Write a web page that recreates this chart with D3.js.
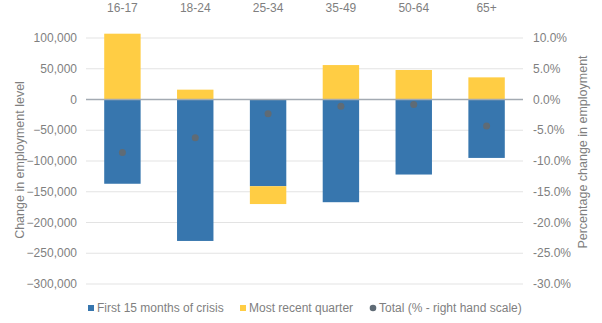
<!DOCTYPE html>
<html>
<head>
<meta charset="utf-8">
<script src="https://cdn.jsdelivr.net/npm/d3@7"></script>
<style>
  body { margin: 0; background: #fff; }
  text { font-family: "Liberation Sans", Arial, sans-serif; fill: #7f7f7f; }
</style>
</head>
<body>
<svg id="chart" width="602" height="323"></svg>
<script>
const groups = ['16-17', '18-24', '25-34', '35-49', '50-64', '65+'];
const firstMonths = [-137000, -230000, -141000, -167000, -122000, -95000];
const recentQuarter = [107000, 16000, -29000, 56000, 48000, 36000];
const totalPct = [-8.6, -6.2, -2.3, -1.1, -0.8, -4.3];
const leftTicks = [100000, 50000, 0, -50000, -100000, -150000, -200000, -250000, -300000];
const rightTicks = [10, 5, 0, -5, -10, -15, -20, -25, -30];

const svg = d3.select('#chart');
const margin = {top: 38, left: 86, right: 79, bottom: 39};
const width = 602 - margin.left - margin.right;
const height = 323 - margin.top - margin.bottom;
const g = svg.append('g').attr('transform', `translate(${margin.left},${margin.top})`);

const x = d3.scaleBand().domain(groups).range([0, width]).paddingInner(0.5).paddingOuter(0.25);
const y = d3.scaleLinear().domain([-300000, 100000]).range([height, 0]);
const y2 = d3.scaleLinear().domain([-30, 10]).range([height, 0]);

// gridlines
g.selectAll('.grid').data(leftTicks.filter(d => d !== 0)).join('line')
  .attr('x1', 0).attr('x2', width)
  .attr('y1', d => y(d)).attr('y2', d => y(d))
  .attr('stroke', '#e3e3e3').attr('stroke-width', 1);

// left axis labels
const fmt = d3.format(',');
g.selectAll('.ly').data(leftTicks).join('text')
  .attr('x', -9).attr('y', d => y(d)).attr('dy', '0.35em')
  .attr('text-anchor', 'end').style('font-size', '12px')
  .text(d => fmt(d));

// right axis labels
g.selectAll('.ry').data(rightTicks).join('text')
  .attr('x', width + 10).attr('y', d => y2(d)).attr('dy', '0.35em')
  .attr('text-anchor', 'start').style('font-size', '12px')
  .text(d => d.toFixed(1) + '%');

// category labels at top
g.selectAll('.cat').data(groups).join('text')
  .attr('x', d => x(d) + x.bandwidth() / 2).attr('y', -26)
  .attr('text-anchor', 'middle').style('font-size', '12px')
  .text(d => d);

// stacked bars: blue from 0, yellow stacked in its sign direction
const bars = groups.map((grp, i) => {
  const a = firstMonths[i], b = recentQuarter[i];
  const blue = [0, a];
  let yellow;
  if (Math.sign(b) === Math.sign(a)) yellow = [a, a + b];
  else yellow = [0, b];
  return {grp, blue, yellow};
});

g.selectAll('.blue').data(bars).join('rect')
  .attr('x', d => x(d.grp)).attr('width', x.bandwidth())
  .attr('y', d => y(Math.max(...d.blue))).attr('height', d => Math.abs(y(d.blue[0]) - y(d.blue[1])))
  .attr('fill', '#3776ae');

g.selectAll('.yellow').data(bars).join('rect')
  .attr('x', d => x(d.grp)).attr('width', x.bandwidth())
  .attr('y', d => y(Math.max(...d.yellow))).attr('height', d => Math.abs(y(d.yellow[0]) - y(d.yellow[1])))
  .attr('fill', '#ffcd44');

// zero line
g.append('line').attr('x1', 0).attr('x2', width)
  .attr('y1', y(0)).attr('y2', y(0))
  .attr('stroke', '#a3aab2').attr('stroke-width', 1.5);

// total dots
g.selectAll('.dot').data(totalPct).join('circle')
  .attr('cx', (d, i) => x(groups[i]) + x.bandwidth() / 2)
  .attr('cy', d => y2(d)).attr('r', 3.5)
  .attr('fill', '#5f6b75');

// axis titles
svg.append('text').attr('transform', `translate(24,160) rotate(-90)`)
  .attr('text-anchor', 'middle').style('font-size', '12.5px')
  .text('Change in employment level');
svg.append('text').attr('transform', `translate(587,152) rotate(-90)`)
  .attr('text-anchor', 'middle').style('font-size', '12.5px')
  .text('Percentage change in employment');

// legend
const legend = svg.append('g').attr('transform', 'translate(0,308)');
const items = [
  {label: 'First 15 months of crisis', color: '#3776ae', shape: 'rect', x: 88},
  {label: 'Most recent quarter', color: '#ffcd44', shape: 'rect', x: 240},
  {label: 'Total (% - right hand scale)', color: '#5f6b75', shape: 'circle', x: 370}
];
items.forEach(it => {
  if (it.shape === 'rect') {
    legend.append('rect').attr('x', it.x).attr('y', -3).attr('width', 6).attr('height', 6).attr('fill', it.color);
  } else {
    legend.append('circle').attr('cx', it.x + 3).attr('cy', 0).attr('r', 3.3).attr('fill', it.color);
  }
  legend.append('text').attr('x', it.x + 9).attr('y', 0).attr('dy', '0.35em')
    .style('font-size', '12px').text(it.label);
});
</script>
</body>
</html>
